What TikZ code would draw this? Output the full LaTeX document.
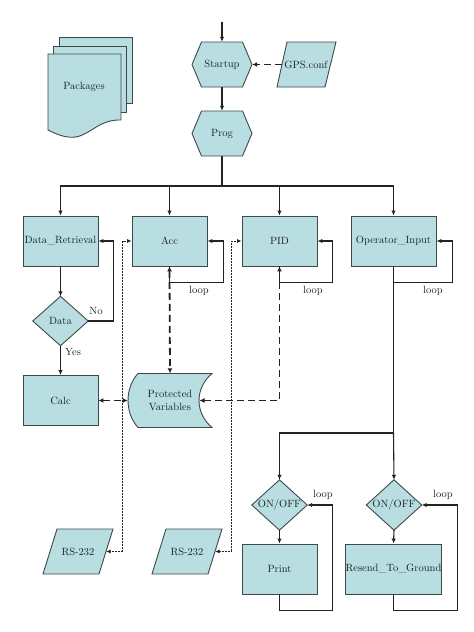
\documentclass[tikz,border=0pt]{standalone}
\usetikzlibrary{arrows.meta,calc,backgrounds}
\definecolor{boxfill}{RGB}{185,222,226}
\definecolor{boxline}{RGB}{62,72,74}
\definecolor{linec}{RGB}{35,35,35}
\definecolor{txtc}{RGB}{25,35,38}
\begin{document}
\begin{tikzpicture}[x=1pt,y=-1pt,
  font=\fontsize{10.5}{13.5}\selectfont, text=txtc,
  box/.style={draw=boxline, fill=boxfill, line width=0.9pt, minimum width=75pt, minimum height=50pt, inner sep=0.5pt},
  ghost/.style={inner sep=0pt, align=center},
  shp/.style={draw=boxline, fill=boxfill, line width=0.9pt, line join=miter},
  line/.style={draw=linec, line width=1.1pt},
  arr/.style={draw=linec, line width=1.1pt, -{Latex[length=5pt,width=4.5pt]}},
  dsh/.style={draw=linec, line width=1.8pt, dash pattern=on 7pt off 4pt, {Latex[length=5pt,width=5pt]}-{Latex[length=5pt,width=5pt]}},
  dshone/.style={draw=linec, line width=1.8pt, dash pattern=on 7pt off 4pt, -{Latex[length=5pt,width=5pt]}},
  dotl/.style={draw=linec, line width=0.8pt, dash pattern=on 0.8pt off 0.7pt, {Latex[length=4.5pt,width=4pt]}-{Latex[length=4.5pt,width=4pt]}},
  lbl/.style={inner sep=1pt}
]
\useasboundingbox (0,0) rectangle (474,632);

% ---------- nodes ----------
\node[ghost, minimum width=60pt, minimum height=45pt] (startup) at (222,64.5) {Startup};
\node[ghost, minimum width=48.5pt, minimum height=45pt] (gps) at (306,64.5) {GPS.conf};
\node[ghost, minimum width=60pt, minimum height=45pt] (prog) at (222,133.5) {Prog};
\node[ghost] (packages) at (84,87) {Packages};

\node[box] (dr) at (60.5,241) {Data\_Retrieval};
\node[box] (acc) at (169.5,241) {Acc};
\node[box] (pid) at (279.5,241) {PID};
\node[box, minimum width=85pt] (op) at (393.5,241) {Operator\_Input};

\node[ghost, minimum width=55pt, minimum height=49pt] (data) at (60.5,321) {Data};
\node[box] (calc) at (60.5,400.5) {Calc};
\node[ghost, minimum width=84pt, minimum height=54pt] (pv) at (170,400.5) {Protected\\Variables};
\coordinate (pvR) at (199.5,400.5);

\node[ghost, minimum width=56pt, minimum height=45pt] (rs1) at (78,551.5) {RS-232};
\node[ghost, minimum width=56pt, minimum height=45pt] (rs2) at (187,551.5) {RS-232};

\node[ghost, minimum width=55pt, minimum height=50pt] (on1) at (279.5,505) {ON/OFF};
\node[ghost, minimum width=55pt, minimum height=50pt] (on2) at (394,505) {ON/OFF};
\node[box] (print) at (279.5,569) {Print};
\node[box, minimum width=95pt] (resend) at (393.5,569) {Resend\_To\_Ground};

\coordinate (top) at (222,22);
\coordinate (bus) at (222,186);
\coordinate (split) at (393.5,433);

% ---------- shape outlines ----------
\begin{pgfonlayer}{background}
  % packages (multi-document)
  \draw[shp] (59,37) rectangle (132,103);
  \draw[shp] (53,46) rectangle (126,112);
  \draw[shp] (48,54) -- (121,54) -- (121,120)
     .. controls (96,119) and (88,140) .. (68,137)
     .. controls (60,136) and (54,133) .. (48,130) -- cycle;
  % hexagons
  \draw[shp] (192,64.5) -- (201.5,42) -- (242.5,42) -- (252,64.5) -- (242.5,87) -- (201.5,87) -- cycle;
  \draw[shp] (192,133.5) -- (201.5,111) -- (242.5,111) -- (252,133.5) -- (242.5,156) -- (201.5,156) -- cycle;
  % parallelograms
  \draw[shp] (287,42) -- (336,42) -- (325,87) -- (277,87) -- cycle;
  \draw[shp] (57,529) -- (113,529) -- (99,574) -- (43,574) -- cycle;
  \draw[shp] (166,529) -- (222,529) -- (208,574) -- (152,574) -- cycle;
  % diamonds
  \draw[shp] (data.north) -- (data.east) -- (data.south) -- (data.west) -- cycle;
  \draw[shp] (on1.north) -- (on1.east) -- (on1.south) -- (on1.west) -- cycle;
  \draw[shp] (on2.north) -- (on2.east) -- (on2.south) -- (on2.west) -- cycle;
  % stored data
  \draw[shp] (138,373.5) -- (212,373.5)
     .. controls (194.7,388) and (194.7,413) .. (212,427.5)
     -- (138,427.5)
     .. controls (124.7,413) and (124.7,388) .. cycle;
\end{pgfonlayer}

% ---------- connectors ----------
\draw[arr] (top) -- (startup.north);
\draw[dshone] (gps.west) -- (startup.east);
\draw[arr] (startup.south) -- (prog.north);
\draw[line] (prog.south) -- (bus);
\draw[arr] (bus) -| (dr.north);
\draw[arr] (bus) -| (acc.north);
\draw[arr] (bus) -| (pid.north);
\draw[arr] (bus) -| (op.north);

\draw[arr] (dr.south) -- (data.north);
\draw[arr] (data.south) -- (calc.north);
\draw[arr] (data.east) -- ++(25,0) |- (dr.east);
\node[lbl] (no) at (96,311) {No};
\node[lbl] (yes) at (73,352) {Yes};

\draw[arr] (acc.south) -- ++(0,16) -| ([xshift=16pt]acc.east) -- (acc.east);
\draw[arr] (pid.south) -- ++(0,16) -| ([xshift=15pt]pid.east) -- (pid.east);
\draw[arr] (op.south) -- ++(0,16) -| ([xshift=16pt]op.east) -- (op.east);
\node[lbl] (l1) at (199,291) {loop};
\node[lbl] (l2) at (313,291) {loop};
\node[lbl] (l3) at (433,291) {loop};

\draw[dsh] (acc.south) -- (pv.north);
\draw[dsh] (calc.east) -- (pv.west);
\draw[dsh] (pvR) -| (pid.south);

\draw[dotl] (acc.west) -- ++(-9,0) |- (rs1.east);
\draw[dotl] (pid.west) -- ++(-10,0) |- (rs2.east);

\draw[line] (op.south) -- (split);
\draw[arr] (split) -| (on1.north);
\draw[arr] (split) -- (on2.north);
\draw[arr] (on1.south) -- (print.north);
\draw[arr] (on2.south) -- (resend.north);
\draw[arr] (print.south) -- ++(0,16) -| ([xshift=25pt]on1.east) -- (on1.east);
\draw[arr] (resend.south) -- ++(0,16) -| ([xshift=36pt]on2.east) -- (on2.east);
\node[lbl] (l4) at (323,495) {loop};
\node[lbl] (l5) at (443,495) {loop};
\end{tikzpicture}
\end{document}
